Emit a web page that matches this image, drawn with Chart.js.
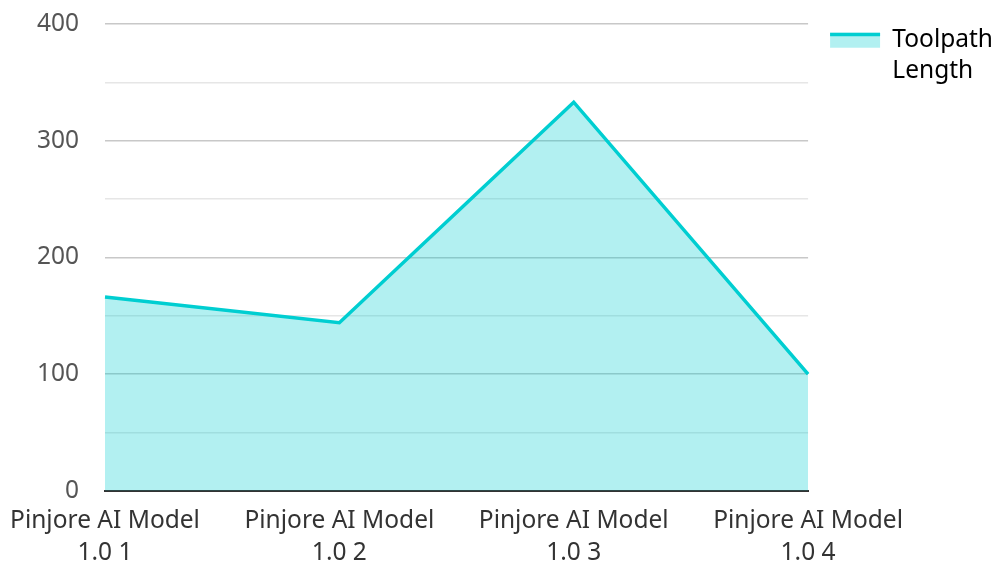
<!DOCTYPE html>
<html>
<head>
<meta charset="utf-8">
<script src="https://cdn.jsdelivr.net/npm/chart.js@4"></script>
<style>
  html, body { margin: 0; padding: 0; background: #fff; }
  #wrap { width: 997px; height: 562px; }
</style>
</head>
<body>
<div id="wrap"><canvas id="chart" width="997" height="562"></canvas></div>
<script>
// Category labels (two lines each) and toolpath length per model
const categories = [
  ['Pinjore AI Model', '1.0 1'],
  ['Pinjore AI Model', '1.0 2'],
  ['Pinjore AI Model', '1.0 3'],
  ['Pinjore AI Model', '1.0 4']
];
const toolpathLength = [166, 144, 333, 100];
const seriesLabel = ['Toolpath', 'Length'];

const LINE = '#00CED1';
const FILL = 'rgba(0, 206, 209, 0.3)';
const FONT = "'Noto Sans', 'Open Sans', sans-serif";
const FS = 24.5;

// Legend swatch: filled box with a thick line along its top edge;
// the legend is also nudged a little further from the plot area
const legendSwatch = {
  id: 'legendSwatch',
  afterLayout(chart) {
    const lg = chart.legend;
    if (!lg) return;
    lg.left += 2;
    lg.right += 2;
  },
  afterDraw(chart) {
    const lg = chart.legend;
    if (!lg || !lg.legendHitBoxes) return;
    const ctx = chart.ctx;
    const opts = lg.options.labels;
    lg.legendHitBoxes.forEach(hb => {
      const top = hb.top + Math.max((FS - opts.boxHeight) / 2, 0);
      ctx.save();
      ctx.strokeStyle = LINE;
      ctx.lineWidth = 3.5;
      ctx.beginPath();
      ctx.moveTo(hb.left, top + 1.75);
      ctx.lineTo(hb.left + opts.boxWidth, top + 1.75);
      ctx.stroke();
      ctx.restore();
    });
  }
};

new Chart(document.getElementById('chart'), {
  type: 'line',
  data: {
    labels: categories,
    datasets: [{
      label: seriesLabel.join(' '),
      data: toolpathLength,
      borderColor: LINE,
      backgroundColor: FILL,
      borderWidth: 3.5,
      fill: 'origin',
      tension: 0,
      pointRadius: 0,
      pointHoverRadius: 0
    }]
  },
  options: {
    responsive: false,
    animation: false,
    layout: { padding: { left: 7, right: -4, top: 8, bottom: -21 } },
    plugins: {
      tooltip: { enabled: false },
      legend: {
        position: 'right',
        align: 'start',
        labels: {
          boxWidth: 50,
          boxHeight: 15,
          padding: 20,
          color: '#222',
          font: { family: FONT, size: FS, lineHeight: 1.27 },
          generateLabels() {
            return [{
              text: seriesLabel,
              fillStyle: FILL,
              strokeStyle: 'rgba(0,0,0,0)',
              lineWidth: 0,
              hidden: false,
              datasetIndex: 0
            }];
          }
        }
      }
    },
    scales: {
      x: {
        offset: false,
        afterFit(scale) {
          scale.paddingLeft = 105;
          scale.paddingRight = 0;
        },
        grid: { display: false, drawTicks: false },
        border: { display: true, color: '#333', width: 2 },
        ticks: {
          color: '#333',
          padding: 14,
          maxRotation: 0,
          autoSkip: false,
          font: { family: FONT, size: FS, lineHeight: 1.31 }
        }
      },
      y: {
        min: 0,
        max: 400,
        afterFit(scale) {
          scale.paddingTop = 24;
          scale.paddingBottom = 0;
        },
        grid: {
          drawTicks: false,
          color: ctx => (ctx.tick && ctx.tick.value % 100 === 0) ? '#c8c8c8' : '#e6e6e6',
          lineWidth: 1.5
        },
        border: { display: false },
        ticks: {
          stepSize: 50,
          padding: 26,
          color: '#555',
          font: { family: FONT, size: FS },
          callback: v => (v % 100 === 0 ? String(v) : '')
        }
      }
    }
  },
  plugins: [legendSwatch]
});
</script>
</body>
</html>
